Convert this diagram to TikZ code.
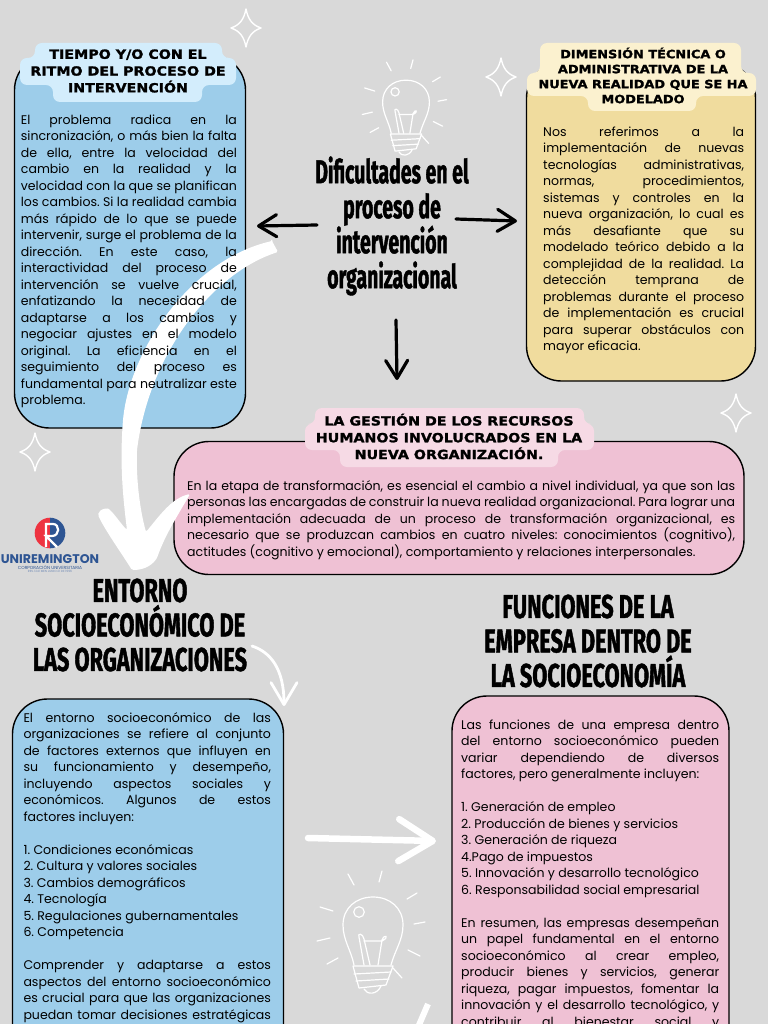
\documentclass[tikz,border=0pt]{standalone}
\usepackage{fontspec}
\usepackage{tikz}
\usetikzlibrary{arrows.meta,positioning,calc}
\setmainfont{Poppins}
\newfontfamily\headfont[FakeStretch=1.13,FakeBold=1.6]{DejaVu Sans}
\newfontfamily\handfont[FakeStretch=0.59,FakeBold=1.2]{Fira Sans}
\newfontfamily\handcaps[FakeStretch=0.66,FakeBold=1.2]{Fira Sans}
\definecolor{paper}{HTML}{D9D9D9}
\definecolor{skyfill}{HTML}{9DCDEA}
\definecolor{skyplate}{HTML}{D3EDFC}
\definecolor{sandfill}{HTML}{F0DC9E}
\definecolor{sandplate}{HTML}{FBF1CF}
\definecolor{rosefill}{HTML}{EFC1D4}
\definecolor{roseplate}{HTML}{F6DAE5}
\definecolor{logoblue}{HTML}{2E5593}
\definecolor{logored}{HTML}{EE3340}
\newcommand{\bodysize}{\fontsize{12.55}{16.5}\selectfont\frenchspacing\parindent=0pt\tolerance=10000\hbadness=10000\hyphenpenalty=10000\relax}
\tikzset{
  infobox/.style={draw=black, line width=1.4pt, rounded corners=35pt, inner sep=0pt, outer sep=0pt, anchor=north west},
  plate/.style={rounded corners=7pt},
  bodytext/.style={inner sep=0pt, anchor=north west, align=justify, font=\bodysize},
  headtext/.style={inner sep=0pt, align=center, font=\headfont\bfseries\fontsize{12.6}{16.8}\selectfont},
  handtitle/.style={inner sep=0pt, align=center, font=\handfont\bfseries\fontsize{33}{35}\selectfont},
  capstitle/.style={inner sep=0pt, align=center, font=\handcaps\bfseries\fontsize{33}{34.5}\selectfont},
  inkarrow/.style={line width=3.2pt, line cap=round, -{Straight Barb[round,length=18pt,width=22pt]}},
  chalkarrow/.style={white, line cap=round, -{Straight Barb[round,length=22pt,width=26pt]}},
  bulb/.pic={
    \draw (-19,40) .. controls (-22,25) and (-30,15) .. (-30,0) .. controls (-30,-17) and (-17,-28) .. (0,-28)
      .. controls (17,-28) and (30,-17) .. (30,0) .. controls (30,15) and (22,25) .. (18,40);
    \draw (-14,-13) circle[radius=5.3];
    \draw (-9,40) -- (-14,12) .. controls (-16,8) and (-10,8) .. (-9,14) -- (-3,40);
    \draw (5,40) -- (9,15) .. controls (12,8) and (17,12) .. (9,16) -- (-9,16);
    \draw (-20,41) -- (20,41) -- (13,60) (-20,41) -- (-14,63) -- (13,60);
    \draw (-19,49) -- (18,47) (-17,56) -- (16,54);
    \draw (-9,64) .. controls (-6,70) and (4,70) .. (8,61);
    \foreach \xa/\ya/\xb/\yb in {-25/-51/-19/-40,9/-54/6/-43,44/-32/34/-26,52/-3/41/-1,47/31/35/25,29/53/20/43,-35/33/-46/39,-43/13/-56/16,-40/-14/-53/-18} {
      \draw (\xa,\ya) -- (\xb,\yb);
    }
  },
  sparkle/.pic={
    \draw (0,-19) .. controls (2,-9) and (6,-3) .. (15,0) .. controls (6,3) and (2,9) .. (0,19)
      .. controls (-2,9) and (-6,3) .. (-15,0) .. controls (-6,-3) and (-2,-9) .. (0,-19) -- cycle;
  }
}

\begin{document}
\begin{tikzpicture}[x=1pt, y=-1pt, >=Latex]
  \clip (0,0) rectangle (768,1024);
  \fill[paper] (0,0) rectangle (768,1024);

  % sparkles and bulbs
  \begin{scope}[white, line width=1.4pt, line cap=round, line join=round]
    \foreach \x/\y/\nm in {246/28/a,501/77/b,736/413/c,35/452/d} {
      \pic (spark\nm) at (\x,\y) {sparkle};
    }
  \end{scope}
  \begin{scope}[white, line width=1.2pt, line cap=round, line join=round]
    \pic[scale=0.78] (bulbtop) at (406,102) {bulb};
    \pic (bulblow) at (373,925) {bulb};
  \end{scope}

  % boxes
  \node[infobox, fill=skyfill, minimum width=231pt, minimum height=373pt] (tiempo) at (14.5,55) {};
  \node[infobox, fill=sandfill, minimum width=229pt, minimum height=318pt] (dimension) at (526.5,63) {};
  \node[infobox, fill=rosefill, minimum width=570pt, minimum height=133pt] (gestion) at (174,441.5) {};
  \node[infobox, fill=skyfill, minimum width=271pt, minimum height=400pt] (entorno) at (12.5,699) {};
  \node[infobox, fill=rosefill, minimum width=277pt, minimum height=400pt] (funciones) at (452,696) {};

  % plates behind the headings
  \fill[skyplate, plate] (128,43) -| (222,58) -| (236,85) -| (202,102) -| (53,85) -| (20,58) -| (35,43) -- cycle;
  \fill[sandplate, plate] (640,43) -| (741,73) -| (756,96) -| (696,111) -| (588,96) -| (527,73) -| (540,43) -- cycle;
  \fill[roseplate, plate] (450,408) -| (584,424) -| (594,450) -| (558,467) -| (340,450) -| (305,424) -| (315,408) -- cycle;

  % white arrows
  \fill[white, rounded corners=1.5pt] (272,241) -- (278,252)
    .. controls (215,272) and (150,350) .. (137,450)
    .. controls (136,480) and (140,510) .. (146,532)
    .. controls (160,515) and (172,498) .. (190,494)
    .. controls (178,515) and (165,535) .. (157,558)
    .. controls (150,568) and (140,570) .. (132,570)
    .. controls (118,548) and (105,530) .. (98,515)
    .. controls (100,508) and (108,508) .. (110,510)
    .. controls (115,515) and (122,525) .. (127,530)
    .. controls (122,490) and (120,460) .. (123,420)
    .. controls (130,350) and (190,260) .. (272,241) -- cycle;
  \coordinate (curlfrom) at (252,646);
  \coordinate (curlto) at (284,706);
  \draw[chalkarrow, line width=2.8pt] (curlfrom) .. controls (270,652) and (284,668) .. (curlto);
  \coordinate (strokefrom) at (308,838);
  \coordinate (stroketo) at (436,841);
  \draw[white, line width=6.5pt, line cap=round, -{Straight Barb[round,length=34pt,width=42pt]}] (strokefrom) -- (stroketo);
  \coordinate (tailtop) at (428,1004);
  \coordinate (tailend) at (416,1032);
  \draw[white, line width=6pt] (tailtop) -- (tailend);

  % headings
  \node[headtext] (tiempohead) at (128,71) {TIEMPO Y/O CON EL\\RITMO DEL PROCESO DE\\INTERVENCIÓN};
  \node[headtext, font=\headfont\bfseries\fontsize{11.4}{15}\selectfont] (dimensionhead) at (643,75.5) {DIMENSIÓN TÉCNICA O\\ADMINISTRATIVA DE LA\\NUEVA REALIDAD QUE SE HA\\MODELADO};
  \node[headtext] (gestionhead) at (449,436.5) {LA GESTIÓN DE LOS RECURSOS\\HUMANOS INVOLUCRADOS EN LA\\NUEVA ORGANIZACIÓN.};

  % body texts
  \node[bodytext, text width=216pt] (tiempotext) at (20.7,112.5) {\strut El problema radica en la\linebreak
    sincronización, o más bien la falta\linebreak
    de ella, entre la velocidad del\linebreak
    cambio en la realidad y la\linebreak
    velocidad con la que se planifican\linebreak
    los cambios. Si la realidad cambia\linebreak
    más rápido de lo que se puede\linebreak
    intervenir, surge el problema de la\linebreak
    dirección. En este caso, la\linebreak
    interactividad del proceso de\linebreak
    intervención se vuelve crucial,\linebreak
    enfatizando la necesidad de\linebreak
    adaptarse a los cambios y\linebreak
    negociar ajustes en el modelo\linebreak
    original. La eficiencia en el\linebreak
    seguimiento del proceso es\linebreak
    fundamental para neutralizar este\linebreak
    problema.};
  \node[bodytext, text width=201pt] (dimensiontext) at (543,124.5) {\strut Nos referimos a la\linebreak
    implementación de nuevas\linebreak
    tecnologías administrativas,\linebreak
    normas, procedimientos,\linebreak
    sistemas y controles en la\linebreak
    nueva organización, lo cual es\linebreak
    más desafiante que su\linebreak
    modelado teórico debido a la\linebreak
    complejidad de la realidad. La\linebreak
    detección temprana de\linebreak
    problemas durante el proceso\linebreak
    de implementación es crucial\linebreak
    para superar obstáculos con\linebreak
    mayor eficacia.};
  \node[bodytext, text width=548pt] (gestiontext) at (187,478.5) {\strut En la etapa de transformación, es esencial el cambio a nivel individual, ya que son las\linebreak
    personas las encargadas de construir la nueva realidad organizacional. Para lograr una\linebreak
    implementación adecuada de un proceso de transformación organizacional, es\linebreak
    necesario que se produzcan cambios en cuatro niveles: conocimientos (cognitivo),\linebreak
    actitudes (cognitivo y emocional), comportamiento y relaciones interpersonales.};
  \node[bodytext, text width=247.5pt] (entornotext) at (23.3,710.5) {\strut El entorno socioeconómico de las\linebreak
    organizaciones se refiere al conjunto\linebreak
    de factores externos que influyen en\linebreak
    su funcionamiento y desempeño,\linebreak
    incluyendo aspectos sociales y\linebreak
    económicos. Algunos de estos\linebreak
    factores incluyen:\par\strut\par
    1. Condiciones económicas\par
    2. Cultura y valores sociales\par
    3. Cambios demográficos\par
    4. Tecnología\par
    5. Regulaciones gubernamentales\par
    6. Competencia\par\strut\par
    Comprender y adaptarse a estos\linebreak
    aspectos del entorno socioeconómico\linebreak
    es crucial para que las organizaciones\linebreak
    puedan tomar decisiones estratégicas\parfillskip=0pt\par};
  \node[bodytext, text width=258pt] (funcionestext) at (461,717.5) {\strut Las funciones de una empresa dentro\linebreak
    del entorno socioeconómico pueden\linebreak
    variar dependiendo de diversos\linebreak
    factores, pero generalmente incluyen:\par\strut\par
    1. Generación de empleo\par
    2. Producción de bienes y servicios\par
    3. Generación de riqueza\par
    4.Pago de impuestos\par
    5. Innovación y desarrollo tecnológico\par
    6. Responsabilidad social empresarial\par\strut\par
    En resumen, las empresas desempeñan\linebreak
    un papel fundamental en el entorno\linebreak
    socioeconómico al crear empleo,\linebreak
    producir bienes y servicios, generar\linebreak
    riqueza, pagar impuestos, fomentar la\linebreak
    innovación y el desarrollo tecnológico, y\linebreak
    contribuir al bienestar social y\parfillskip=0pt\par};

  % titles
  \node[handtitle] (title) at (392,226) {Dificultades en el\\proceso de\\intervención\\organizacional};
  \node[capstitle] (entornotitle) at (140,625) {ENTORNO\\SOCIOECONÓMICO DE\\LAS ORGANIZACIONES};
  \node[capstitle] (funcionestitle) at (588,641) {FUNCIONES DE LA\\EMPRESA DENTRO DE\\LA SOCIOECONOMÍA};

  % black arrows
  \coordinate (toleft) at (257,226);
  \coordinate (fromleft) at (317,225);
  \coordinate (fromright) at (456,219);
  \coordinate (toright) at (517,221);
  \coordinate (fromdown) at (396,320);
  \coordinate (todown) at (397,380);
  \draw[inkarrow] (fromleft) -- (toleft);
  \draw[inkarrow] (fromright) -- (toright);
  \draw[inkarrow] (fromdown) -- (todown);

  % logo
  \fill[logored] (50,548.3) arc[start angle=90, end angle=270, radius=15.3] -- cycle;
  \fill[logoblue] (50,548.3) arc[start angle=90, end angle=-90, radius=15.3] -- cycle;
  \draw[white, line width=2.2pt] (46,547) -- (46,524) -- (53,524) .. controls (60,524) and (60,536) .. (52,536) -- (46,536) -- (57,547);
  \node[inner sep=0pt, text=logoblue, font=\bfseries\fontsize{12.6}{13}\selectfont] (logoname) at (50,559) {UNIREMINGTON};
  \node[inner sep=0pt, text=logoblue, below=1pt of logoname, font=\fontsize{4.4}{5}\selectfont] (logoline) {CORPORACIÓN UNIVERSITARIA};
  \node[inner sep=0pt, text=logoblue!70, below=0.8pt of logoline, font=\fontsize{3}{4}\selectfont] (logores) {RES. 1241 MEN JUNIO 21 DE 1996};
\end{tikzpicture}
\end{document}
